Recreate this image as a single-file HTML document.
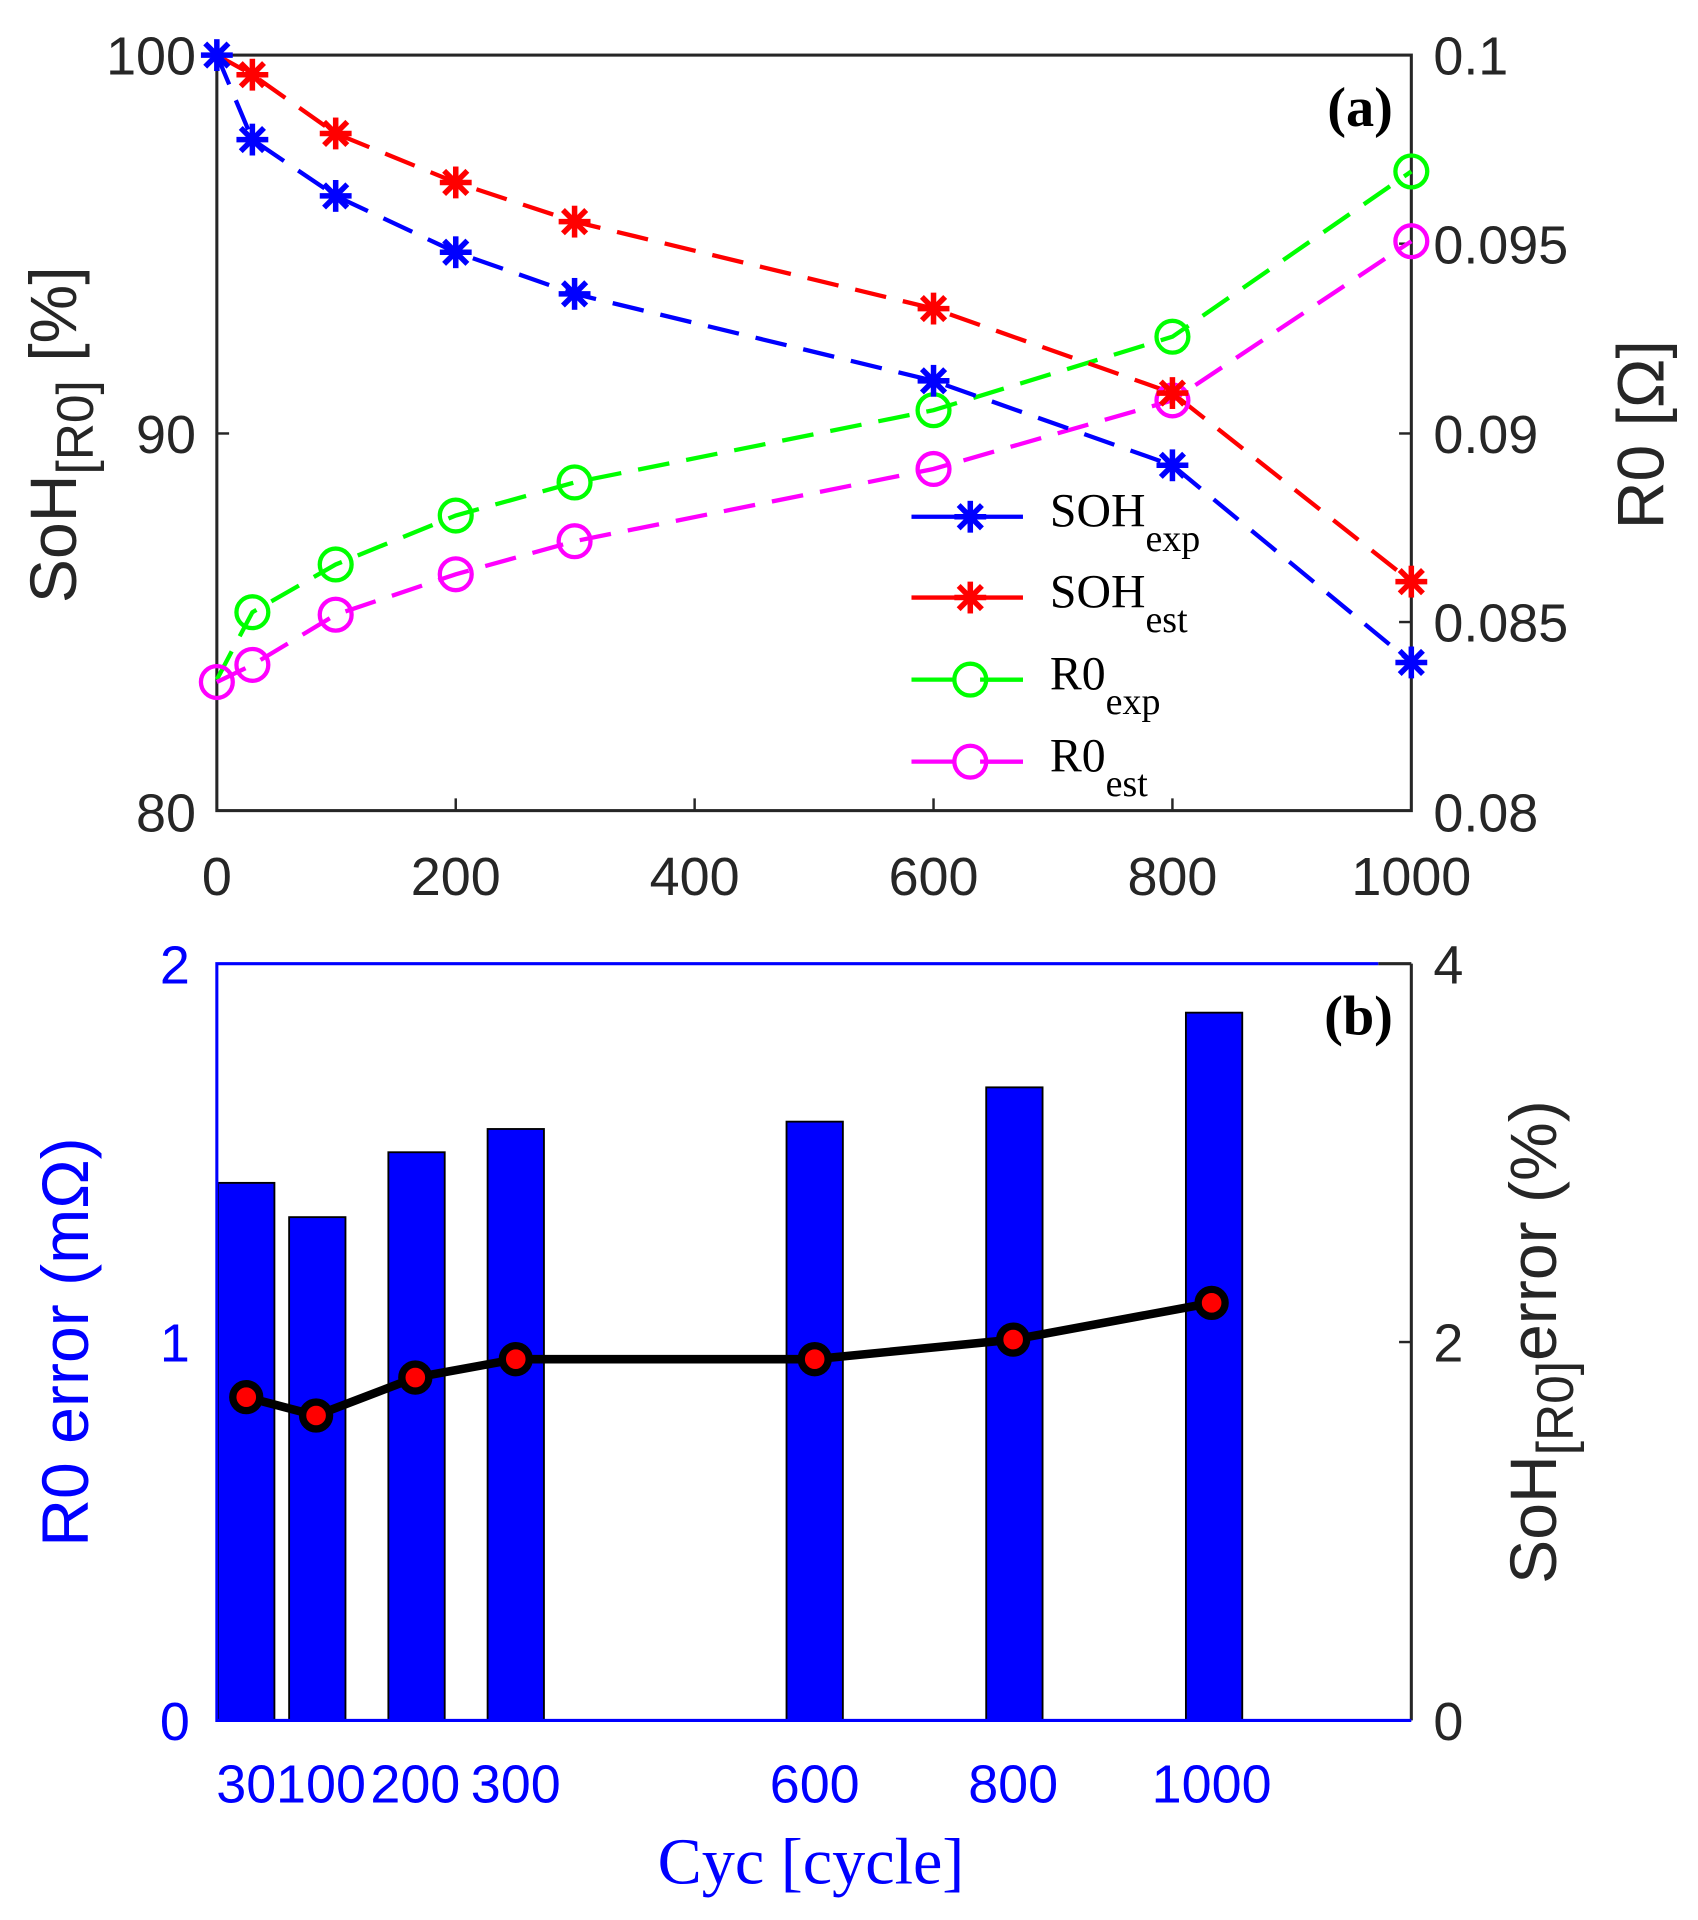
<!DOCTYPE html>
<html><head><meta charset="utf-8"><style>html,body{margin:0;padding:0;background:#fff}svg{display:block}</style></head>
<body>
<svg width="1698" height="1920" viewBox="0 0 1386 1568" preserveAspectRatio="none" xmlns="http://www.w3.org/2000/svg">
<defs>
<g id="st"><line x1="-13" y1="0" x2="13" y2="0"/><line x1="0" y1="-13" x2="0" y2="13"/><line x1="-9.5" y1="-9.5" x2="9.5" y2="9.5"/><line x1="-9.5" y1="9.5" x2="9.5" y2="-9.5"/></g>
</defs>
<!-- Plot a -->
<g font-family="Liberation Sans, sans-serif" font-size="44" fill="#262626">
<rect x="177" y="45" width="975" height="617" fill="none" stroke="#262626" stroke-width="2.5"/>
<g stroke="#262626" stroke-width="2">
<line x1="372" y1="662" x2="372" y2="652"/><line x1="567" y1="662" x2="567" y2="652"/><line x1="762" y1="662" x2="762" y2="652"/><line x1="957" y1="662" x2="957" y2="652"/>
<line x1="177" y1="354" x2="187" y2="354"/><line x1="1152" y1="199" x2="1142" y2="199"/><line x1="1152" y1="354" x2="1142" y2="354"/><line x1="1152" y1="508" x2="1142" y2="508"/>
</g>
<g text-anchor="end"><text x="160" y="61">100</text><text x="160" y="370">90</text><text x="160" y="679">80</text></g>
<g text-anchor="start"><text x="1170" y="61">0.1</text><text x="1170" y="215">0.095</text><text x="1170" y="370">0.09</text><text x="1170" y="524">0.085</text><text x="1170" y="679">0.08</text></g>
<g text-anchor="middle"><text x="177" y="731">0</text><text x="372" y="731">200</text><text x="567" y="731">400</text><text x="762" y="731">600</text><text x="957" y="731">800</text><text x="1152" y="731">1000</text></g>
<text transform="translate(62,355) rotate(-90)" text-anchor="middle" font-size="54">SoH<tspan dy="14" font-size="42">[R0]</tspan><tspan dy="-14"> [%]</tspan></text>
<text transform="translate(1358,355) rotate(-90)" text-anchor="middle" font-size="54">R0 [Ω]</text>
</g>
<g fill="none" stroke-width="3.5" stroke-dasharray="26,14">
<polyline stroke="#00ff00" points="177,555 206,500 274,461 372,421 469,394 762,335 957,275 1152,140"/>
<polyline stroke="#ff00ff" points="177,557 206,543 274,502 372,469 469,442 762,383 957,327 1152,197"/>
<polyline stroke="#ff0000" points="177,45 206,61 274,109 372,149 469,181 762,252 957,321 1152,475"/>
<polyline stroke="#0000ff" points="177,45 206,114 274,160 372,206 469,240 762,311 957,380 1152,541"/>
</g>
<g fill="none" stroke="#00ff00" stroke-width="3.5"><circle cx="206" cy="500" r="13"/><circle cx="274" cy="461" r="13"/><circle cx="372" cy="421" r="13"/><circle cx="469" cy="394" r="13"/><circle cx="762" cy="335" r="13"/><circle cx="957" cy="275" r="13"/><circle cx="1152" cy="140" r="13"/></g>
<g fill="none" stroke="#ff00ff" stroke-width="3.5"><circle cx="177" cy="557" r="13"/><circle cx="206" cy="543" r="13"/><circle cx="274" cy="502" r="13"/><circle cx="372" cy="469" r="13"/><circle cx="469" cy="442" r="13"/><circle cx="762" cy="383" r="13"/><circle cx="957" cy="327" r="13"/><circle cx="1152" cy="197" r="13"/></g>
<g stroke="#ff0000" stroke-width="4.5"><use href="#st" x="206" y="61"/><use href="#st" x="274" y="109"/><use href="#st" x="372" y="149"/><use href="#st" x="469" y="181"/><use href="#st" x="762" y="252"/><use href="#st" x="957" y="321"/><use href="#st" x="1152" y="475"/></g>
<g stroke="#0000ff" stroke-width="4.5"><use href="#st" x="177" y="45"/><use href="#st" x="206" y="114"/><use href="#st" x="274" y="160"/><use href="#st" x="372" y="206"/><use href="#st" x="469" y="240"/><use href="#st" x="762" y="311"/><use href="#st" x="957" y="380"/><use href="#st" x="1152" y="541"/></g>
<text x="1137" y="103" text-anchor="end" font-family="Liberation Serif, serif" font-weight="bold" font-size="46" fill="#000">(a)</text>
<!-- legend -->
<g stroke-width="3.5">
<line x1="744" y1="422" x2="835" y2="422" stroke="#0000ff"/><use href="#st" x="792" y="422" stroke="#0000ff" stroke-width="4.5"/>
<line x1="744" y1="488" x2="835" y2="488" stroke="#ff0000"/><use href="#st" x="792" y="488" stroke="#ff0000" stroke-width="4.5"/>
<line x1="744" y1="555" x2="835" y2="555" stroke="#00ff00"/><circle cx="792" cy="555" r="13" fill="#fff" stroke="#00ff00"/><line x1="800" y1="555" x2="835" y2="555" stroke="#00ff00"/>
<line x1="744" y1="622" x2="835" y2="622" stroke="#ff00ff"/><circle cx="792" cy="622" r="13" fill="#fff" stroke="#ff00ff"/><line x1="800" y1="622" x2="835" y2="622" stroke="#ff00ff"/>
</g>
<g font-family="Liberation Serif, serif" font-size="39" fill="#000">
<text x="857" y="430">SOH<tspan dy="20" font-size="31">exp</tspan></text>
<text x="857" y="496">SOH<tspan dy="20" font-size="31">est</tspan></text>
<text x="857" y="563">R0<tspan dy="20" font-size="31">exp</tspan></text>
<text x="857" y="630">R0<tspan dy="20" font-size="31">est</tspan></text>
</g>
<!-- Plot b -->
<g fill="#0000ff" stroke="#000" stroke-width="1.5">
<rect x="178" y="966" width="46" height="439"/><rect x="236" y="994" width="46" height="411"/><rect x="317" y="941" width="46" height="464"/><rect x="398" y="922" width="46" height="483"/><rect x="642" y="916" width="46" height="489"/><rect x="805" y="888" width="46" height="517"/><rect x="968" y="827" width="46" height="578"/>
</g>
<line x1="1152" y1="787" x2="1152" y2="1405" stroke="#262626" stroke-width="2.5"/>
<line x1="1125" y1="787" x2="1152" y2="787" stroke="#262626" stroke-width="2.5"/>
<polyline points="1125,787 177,787 177,1405 1152,1405" fill="none" stroke="#0000ff" stroke-width="2.5"/>
<line x1="1152" y1="1096" x2="1142" y2="1096" stroke="#262626" stroke-width="2"/>
<polyline points="201,1141 258,1156 339,1125 421,1110 665,1110 827,1094 989,1064" fill="none" stroke="#000" stroke-width="7"/>
<g fill="#ff0000" stroke="#000" stroke-width="6"><circle cx="201" cy="1141" r="11"/><circle cx="258" cy="1156" r="11"/><circle cx="339" cy="1125" r="11"/><circle cx="421" cy="1110" r="11"/><circle cx="665" cy="1110" r="11"/><circle cx="827" cy="1094" r="11"/><circle cx="989" cy="1064" r="11"/></g>
<text x="1137" y="845" text-anchor="end" font-family="Liberation Serif, serif" font-weight="bold" font-size="46" fill="#000">(b)</text>
<g font-family="Liberation Sans, sans-serif" font-size="44">
<g fill="#0000ff" text-anchor="end"><text x="155" y="803">2</text><text x="155" y="1112">1</text><text x="155" y="1421">0</text></g>
<g fill="#262626"><text x="1170" y="803">4</text><text x="1170" y="1112">2</text><text x="1170" y="1421">0</text></g>
<g fill="#0000ff" text-anchor="middle"><text x="201" y="1472">30</text><text x="262" y="1472">100</text><text x="339" y="1472">200</text><text x="421" y="1472">300</text><text x="665" y="1472">600</text><text x="827" y="1472">800</text><text x="989" y="1472">1000</text></g>
<text transform="translate(72,1096) rotate(-90)" text-anchor="middle" font-size="54" fill="#0000ff">R0 error (mΩ)</text>
<text transform="translate(1270,1096) rotate(-90)" text-anchor="middle" font-size="54" fill="#262626">SoH<tspan dy="14" font-size="42">[R0]</tspan><tspan dy="-14">error (%)</tspan></text>
</g>
<text x="662" y="1538" text-anchor="middle" font-family="Liberation Serif, serif" font-size="54" fill="#0000ff">Cyc [cycle]</text>
</svg>
</body></html>
